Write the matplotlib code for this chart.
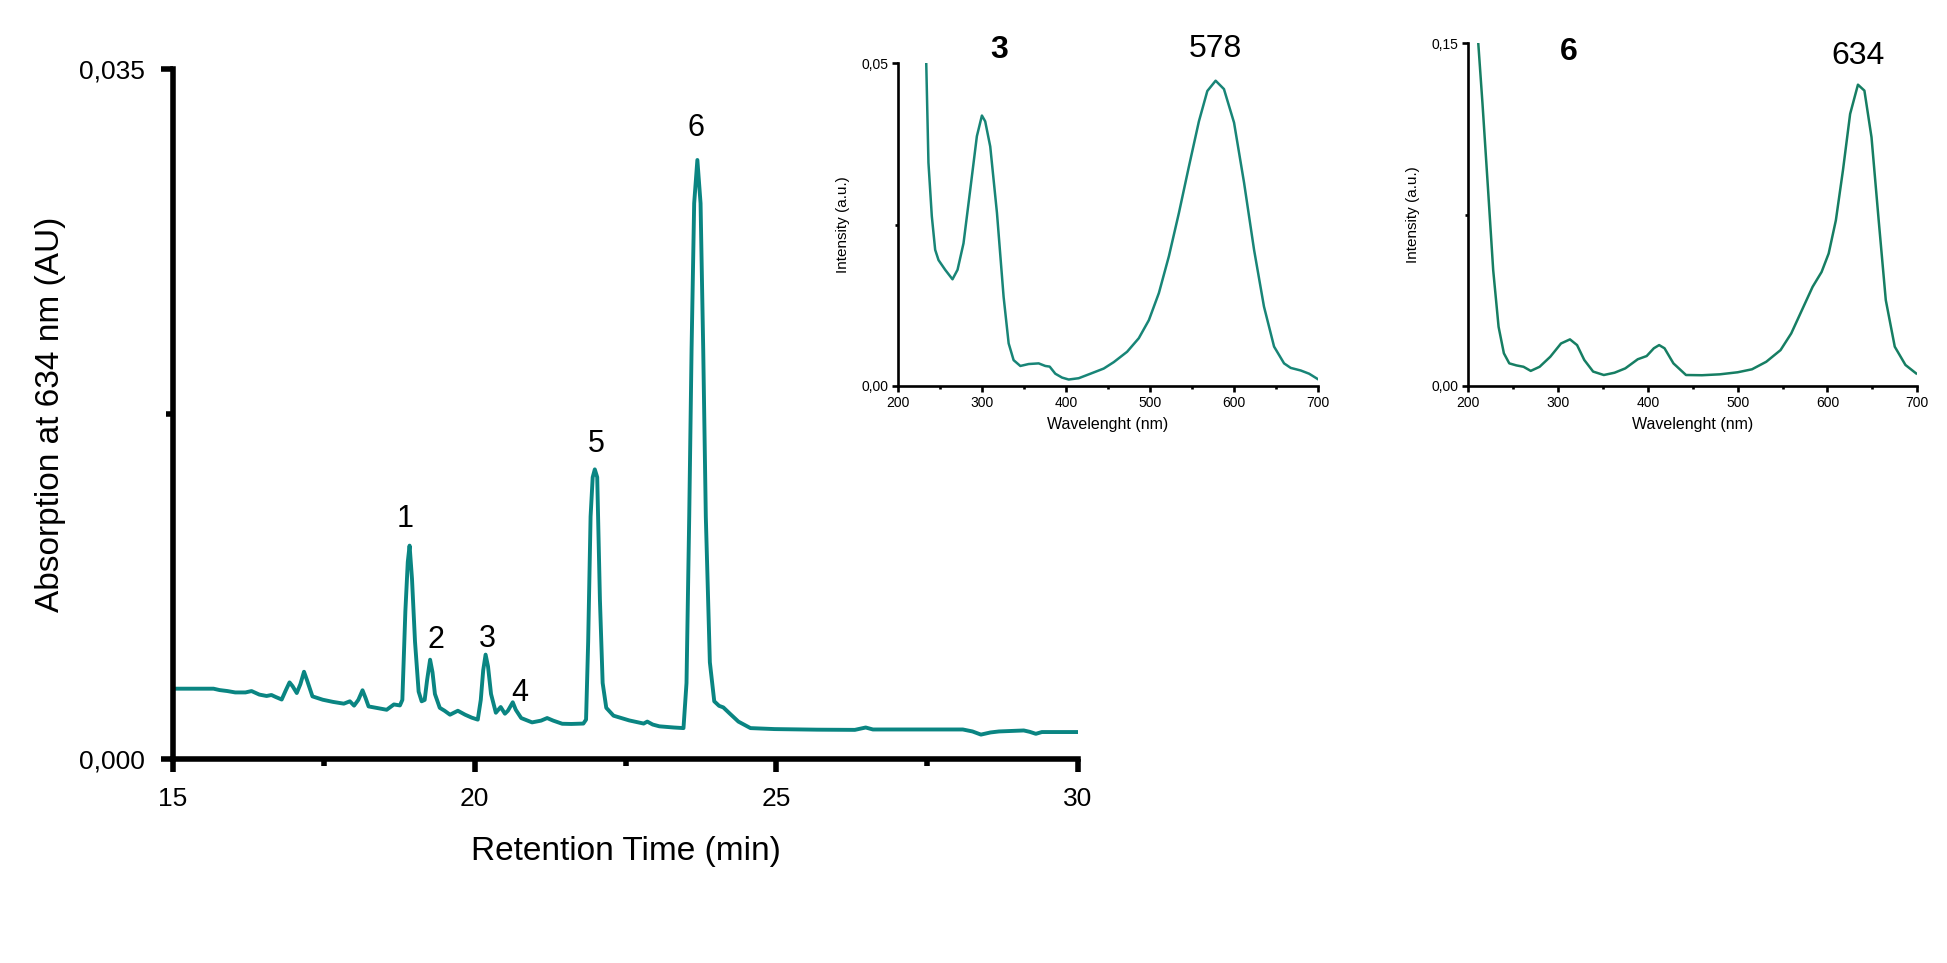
from matplotlib import pyplot as plt
import numpy as np

plt.rcParams['font.family'] = ['Liberation Sans', 'DejaVu Sans']

# chromatogram (time in min, absorbance in AU)
time = [15.00, 15.67, 15.77, 15.90, 16.03, 16.20, 16.30, 16.43, 16.55, 16.63,
        16.70, 16.80, 16.87, 16.93, 16.98, 17.05, 17.11, 17.17, 17.22, 17.31,
        17.48, 17.65, 17.83, 17.93, 18.00, 18.07, 18.14, 18.19, 18.24, 18.40,
        18.54, 18.66, 18.76, 18.80, 18.85, 18.89, 18.92, 18.96, 19.01, 19.07,
        19.12, 19.17, 19.21, 19.26, 19.30, 19.34, 19.42, 19.50, 19.59, 19.72,
        19.84, 19.95, 20.05, 20.10, 20.14, 20.18, 20.22, 20.27, 20.35, 20.43,
        20.50, 20.55, 20.63, 20.68, 20.77, 20.95, 21.10, 21.20, 21.30, 21.45,
        21.60, 21.80, 21.845, 21.88, 21.92, 21.955, 21.99, 22.03, 22.075, 22.12,
        22.18, 22.30, 22.56, 22.80, 22.86, 22.95, 23.06, 23.30, 23.46, 23.51,
        23.555, 23.594, 23.637, 23.69, 23.743, 23.787, 23.83, 23.897, 23.97, 24.05,
        24.12, 24.23, 24.37, 24.57, 24.97, 25.68, 26.30, 26.48, 26.60, 27.50,
        28.09, 28.25, 28.39, 28.55, 28.69, 29.10, 29.20, 29.30, 29.40, 30.00]
absorb = [0.00357, 0.00357, 0.00350, 0.00345, 0.00338, 0.00338, 0.00345, 0.00327, 0.00320, 0.00325,
          0.00315, 0.00302, 0.00350, 0.00389, 0.00370, 0.00335, 0.00380, 0.00443, 0.00400, 0.00318,
          0.00301, 0.00290, 0.00281, 0.00293, 0.00271, 0.00300, 0.00349, 0.00310, 0.00267, 0.00258,
          0.00250, 0.00277, 0.00272, 0.00300, 0.00750, 0.01000, 0.01083, 0.00914, 0.00595, 0.00342,
          0.00293, 0.00300, 0.00400, 0.00504, 0.00440, 0.00330, 0.00260, 0.00245, 0.00225, 0.00245,
          0.00225, 0.00210, 0.00200, 0.00300, 0.00450, 0.00530, 0.00470, 0.00330, 0.00235, 0.00264,
          0.00230, 0.00245, 0.00288, 0.00250, 0.00208, 0.00186, 0.00195, 0.00208, 0.00195, 0.00179,
          0.00178, 0.00180, 0.00200, 0.00595, 0.01230, 0.01430, 0.01470, 0.01430, 0.00807, 0.00386,
          0.00260, 0.00220, 0.00196, 0.00180, 0.00190, 0.00175, 0.00166, 0.00160, 0.00157, 0.00386,
          0.01230, 0.02080, 0.02820, 0.03040, 0.02820, 0.02080, 0.01230, 0.00491, 0.00293, 0.00270,
          0.00262, 0.00230, 0.00190, 0.00157, 0.00152, 0.00149, 0.00148, 0.00160, 0.00150, 0.00150,
          0.00150, 0.00140, 0.00124, 0.00135, 0.00140, 0.00145, 0.00138, 0.00128, 0.00137, 0.00137]

peak_names = ['1', '2', '3', '4', '5', '6']
peak_times = [18.92, 19.26, 20.18, 20.63, 21.99, 23.69]

# UV-Vis spectrum of peak 3
wl_3 = [233.8, 236.5, 240.5, 244.5, 248.5, 256.4, 265.1, 271.1, 278.2, 286.2,
        294.1, 300.1, 304.0, 310.0, 318.0, 325.9, 331.9, 337.8, 345.8, 355.7,
        367.6, 375.5, 380.7, 387.4, 395.4, 403.3, 415.2, 429.2, 445.0, 457.0,
        472.8, 486.7, 498.7, 510.6, 522.5, 534.4, 546.3, 558.2, 568.2, 578.1,
        588.0, 600.0, 611.9, 623.8, 635.6, 647.6, 659.5, 667.4, 679.3, 689.3, 699.2]
int_3 = [0.0505, 0.0346, 0.0263, 0.0211, 0.0195, 0.0180, 0.01653, 0.0180, 0.0221, 0.0304,
         0.0387, 0.0419, 0.0410, 0.0371, 0.0268, 0.0138, 0.0066, 0.0040, 0.0031, 0.0034,
         0.0035, 0.0031, 0.0030, 0.0019, 0.0013, 0.0010, 0.0012, 0.0019, 0.0027, 0.0037,
         0.0053, 0.0074, 0.0102, 0.0144, 0.0201, 0.0268, 0.0340, 0.0410, 0.0457, 0.0473,
         0.0460, 0.0408, 0.0315, 0.0211, 0.0123, 0.0061, 0.0035, 0.0028, 0.0024, 0.0019, 0.0011]

# UV-Vis spectrum of peak 6
wl_6 = [211.1, 215.9, 221.9, 227.8, 233.8, 239.7, 245.7, 253.7, 261.6, 269.6,
        279.5, 291.4, 303.3, 313.3, 321.2, 329.2, 339.1, 351.0, 362.9, 374.9,
        388.8, 398.7, 406.7, 412.6, 418.6, 428.5, 442.5, 460.3, 480.2, 500.1,
        516.0, 531.9, 547.8, 559.7, 571.6, 583.5, 593.5, 601.4, 609.4, 617.3,
        625.3, 634.0, 641.2, 649.1, 657.1, 665.0, 675.0, 686.9, 698.8]
int_6 = [0.1505, 0.1235, 0.0871, 0.0507, 0.0259, 0.0143, 0.0099, 0.0090, 0.0084, 0.0066,
         0.0084, 0.0128, 0.0186, 0.0204, 0.0179, 0.0114, 0.0063, 0.0048, 0.0058, 0.0077,
         0.0117, 0.0131, 0.0165, 0.0179, 0.0165, 0.0099, 0.0048, 0.0047, 0.0051, 0.0060,
         0.0073, 0.0106, 0.0157, 0.0230, 0.0332, 0.0434, 0.0499, 0.0580, 0.0725, 0.0944,
         0.1191, 0.1319, 0.1293, 0.1089, 0.0725, 0.0376, 0.0172, 0.0092, 0.0055]

label_offsets = [(-3, 19), (4, 14), (1, 11), (5, 7), (1, 18), (-1, 23)]


def chromatogram(ax):
    '''Main HPLC trace with labelled peaks.'''
    ax.plot(time, absorb, color='#0a8582', lw=2.8,
            solid_joinstyle='round', solid_capstyle='round')
    ax.set_xlim(15, 30)
    ax.set_ylim(0, 0.035)
    ax.set_xticks([15, 20, 25, 30])
    ax.set_xticks([17.5, 22.5, 27.5], minor=True)
    ax.set_yticks([0, 0.035])
    ax.set_yticklabels(['0,000', '0,035'])
    ax.set_yticks([0.0175], minor=True)
    for s in ['top', 'right']:
        ax.spines[s].set_visible(False)
    for s in ['left', 'bottom']:
        ax.spines[s].set_linewidth(4)
    ax.tick_params(which='major', length=9, width=4, pad=11, labelsize=19)
    ax.tick_params(which='minor', length=5, width=4)
    ax.set_xlabel('Retention Time (min)', fontsize=24, labelpad=18)
    ax.text(-0.136, 0.5, 'Absorption at 634 nm (AU)', transform=ax.transAxes,
            rotation=90, ha='center', va='center', fontsize=24)
    for name, t, off in zip(peak_names, peak_times, label_offsets):
        top = np.interp(t, time, absorb)
        ax.annotate(name, (t, top), xytext=off, textcoords='offset points',
                    ha='center', va='center', fontsize=22)


def spectrum(ax, wl, inten, ymax, labels, number, peak, num_x, num_y, peak_y, color):
    '''Small UV-Vis spectrum panel.'''
    ax.plot(wl, inten, color=color, lw=1.8, solid_joinstyle='round')
    ax.set_xlim(200, 700)
    ax.set_ylim(0, ymax)
    ax.set_xticks([200, 300, 400, 500, 600, 700])
    ax.set_xticks([250, 350, 450, 550, 650], minor=True)
    ax.set_yticks([0, ymax])
    ax.set_yticklabels(labels)
    ax.set_yticks([ymax / 2], minor=True)
    for s in ['top', 'right']:
        ax.spines[s].set_visible(False)
    for s in ['left', 'bottom']:
        ax.spines[s].set_linewidth(1.9)
    ax.tick_params(which='major', length=4, width=1.9, pad=3, labelsize=10)
    ax.tick_params(which='minor', length=2.5, width=1.9)
    ax.set_xlabel('Wavelenght (nm)', fontsize=11.5, labelpad=5)
    ax.set_ylabel('Intensity (a.u.)', fontsize=11, labelpad=8)
    ax.text(num_x, num_y, number, transform=ax.get_xaxis_transform(),
            ha='center', va='center', fontsize=23, fontweight='bold')
    ax.text(peak, peak_y, str(peak), transform=ax.get_xaxis_transform(),
            ha='center', va='center', fontsize=23)


def main():
    fig = plt.figure(figsize=(19.47, 9.63), dpi=100)
    ax = fig.add_axes([0.0889, 0.2118, 0.4648, 0.7162])
    chromatogram(ax)
    ax3 = fig.add_axes([0.4611, 0.5992, 0.2159, 0.3351])
    spectrum(ax3, wl_3, int_3, 0.05, ['0,00', '0,05'], '3', 578,
             321, 1.04, 1.045, '#188577')
    ax6 = fig.add_axes([0.7541, 0.5992, 0.2306, 0.3558])
    spectrum(ax6, wl_6, int_6, 0.15, ['0,00', '0,15'], '6', 634,
             312, 0.975, 0.962, '#167e63')
    fig.savefig('out.png', dpi=100)


if __name__ == '__main__':
    main()
